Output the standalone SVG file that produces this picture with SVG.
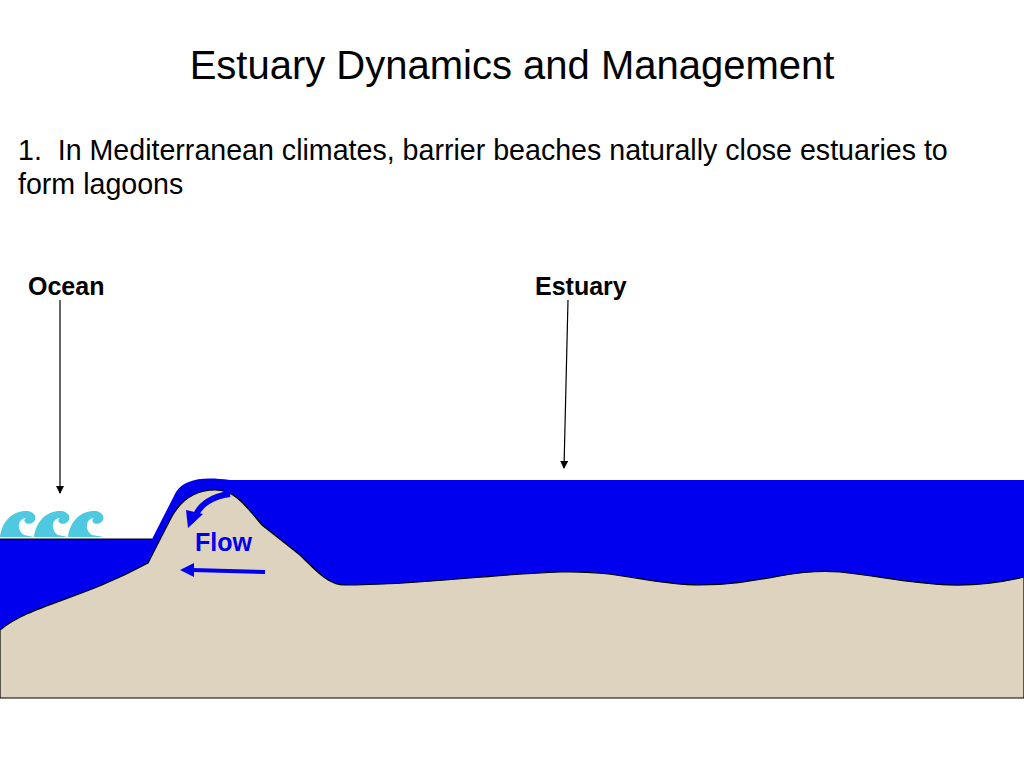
<svg xmlns="http://www.w3.org/2000/svg" width="1024" height="768" viewBox="0 0 1024 768">
<style>
text{font-family:"Liberation Sans",Arial,sans-serif}
.lbl{font-size:25px;font-weight:bold;fill:#000}
.wave{fill:#4fc9e0}
</style>
<defs>
<marker id="ah" markerWidth="8" markerHeight="8" refX="7" refY="4" orient="auto" markerUnits="userSpaceOnUse"><path d="M0,0 L8,4 L0,8 Z" fill="#000"/></marker>
</defs>
<rect width="1024" height="768" fill="#fff"/>
<text x="512" y="79" font-size="40" text-anchor="middle">Estuary Dynamics and Management</text>
<text x="18" y="160" font-size="28.6" xml:space="preserve">1.  In Mediterranean climates, barrier beaches naturally close estuaries to</text>
<text x="18" y="194" font-size="28.6">form lagoons</text>
<g id="water">
<path d="M0,539 L152,539 L176,492 C184,480 200,476 230,480 L1024,480 L1024,697 L0,697 Z" fill="#0000ee"/>
<line x1="0" y1="539" x2="152" y2="539" stroke="#000" stroke-width="1"/>
</g>
<g id="sand">
<path d="M0,630 C30,605 80,600 148,563 L170,520 C180,500 195,490 215,490 C235,490 245,505 262,525 L300,555 C320,575 330,585 345,585 C420,585 480,575 560,572 C620,570 650,585 700,585 C760,585 790,568 840,572 C900,578 950,595 1024,577 L1024,698 L0,698 Z" fill="#ddd3bf" stroke="#000" stroke-width="1.2"/>
</g>
<g id="waves">
<path class="wave" d="M0,537 C2,520 14,510 28,511 C36,512 38,520 32,523 C26,526 22,520 26,518 C18,518 16,530 24,535 L34,537 Z"/>
<path class="wave" d="M34,537 C36,520 48,510 62,511 C70,512 72,520 66,523 C60,526 56,520 60,518 C52,518 50,530 58,535 L68,537 Z"/>
<path class="wave" d="M68,537 C70,520 82,510 96,511 C104,512 106,520 100,523 C94,526 90,520 94,518 C86,518 84,530 92,535 L104,537 Z"/>
</g>
<g id="ocean">
<text class="lbl" x="28" y="295">Ocean</text>
</g>
<g id="estuary">
<text class="lbl" x="535" y="295">Estuary</text>
</g>
<g id="flow">
<text x="195" y="551" font-size="25" font-weight="bold" fill="#0000ee">Flow</text>
</g>
<g id="connectors">
<line x1="60" y1="300" x2="60" y2="493" stroke="#000" stroke-width="1.2" marker-end="url(#ah)"/>
<line x1="568" y1="300" x2="564" y2="468" stroke="#000" stroke-width="1.2" marker-end="url(#ah)"/>
<path d="M230,494 C212,496 200,505 196,515" fill="none" stroke="#0000ee" stroke-width="6"/>
<path d="M186,510 L203,514 L188,528 Z" fill="#0000ee"/>
<line x1="265" y1="572" x2="192" y2="570" stroke="#0000ee" stroke-width="4"/>
<path d="M180,570 L194,563 L194,577 Z" fill="#0000ee"/>
</g>
</svg>
